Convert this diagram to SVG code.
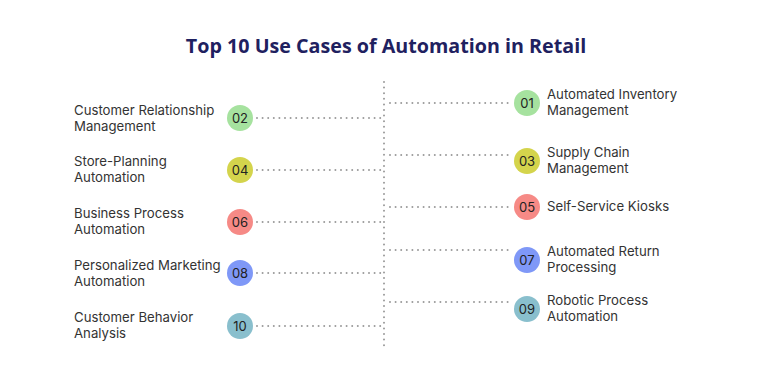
<svg xmlns="http://www.w3.org/2000/svg" width="768" height="381" viewBox="0 0 768 381">
<style>
.title{font-family:"Open Sans","Liberation Sans",sans-serif;font-weight:700;font-size:19.7px;fill:#1f2160}
.lbl{font-family:Inter,"Liberation Sans",sans-serif;font-size:13.2px;fill:#333333}
.num{font-family:Inter,"Liberation Sans",sans-serif;font-size:13px;fill:#222222;text-anchor:middle;dominant-baseline:central}
.dot{stroke:#9a9a9a;stroke-width:2;stroke-linecap:round;stroke-dasharray:0 5.6;fill:none}
.c1{fill:#a6e29f}.c2{fill:#d4d44c}.c3{fill:#f68a86}.c4{fill:#7f98f7}.c5{fill:#89bfcd}
</style>
<rect width="768" height="381" fill="#ffffff"/>
<text class="title" x="386" y="53" text-anchor="middle">Top 10 Use Cases of Automation in Retail</text>
<g id="connectors">
<path class="dot" d="M384 82V348"/>
<path class="dot" d="M257 118H381"/>
<path class="dot" d="M257 170H381"/>
<path class="dot" d="M257 222H381"/>
<path class="dot" d="M257 273H381"/>
<path class="dot" d="M257 326H381"/>
<path class="dot" d="M390 103H512"/>
<path class="dot" d="M390 155H512"/>
<path class="dot" d="M390 207H512"/>
<path class="dot" d="M390 250H512"/>
<path class="dot" d="M390 302H512"/>
</g>
<g id="n02"><circle class="c1" cx="240" cy="118" r="13"/><text class="num" x="240" y="118">02</text><text class="lbl" x="74" y="115">Customer Relationship</text><text class="lbl" x="74" y="131">Management</text></g>
<g id="n04"><circle class="c2" cx="240" cy="170" r="13"/><text class="num" x="240" y="170">04</text><text class="lbl" x="74" y="166">Store-Planning</text><text class="lbl" x="74" y="182">Automation</text></g>
<g id="n06"><circle class="c3" cx="240" cy="222" r="13"/><text class="num" x="240" y="222">06</text><text class="lbl" x="74" y="218">Business Process</text><text class="lbl" x="74" y="234">Automation</text></g>
<g id="n08"><circle class="c4" cx="240" cy="273" r="13"/><text class="num" x="240" y="273">08</text><text class="lbl" x="74" y="270">Personalized Marketing</text><text class="lbl" x="74" y="286">Automation</text></g>
<g id="n10"><circle class="c5" cx="240" cy="326" r="13"/><text class="num" x="240" y="326">10</text><text class="lbl" x="74" y="322">Customer Behavior</text><text class="lbl" x="74" y="338">Analysis</text></g>
<g id="n01"><circle class="c1" cx="527" cy="103" r="13"/><text class="num" x="527" y="103">01</text><text class="lbl" x="547" y="99">Automated Inventory</text><text class="lbl" x="547" y="115">Management</text></g>
<g id="n03"><circle class="c2" cx="527" cy="161" r="13"/><text class="num" x="527" y="161">03</text><text class="lbl" x="547" y="157">Supply Chain</text><text class="lbl" x="547" y="173">Management</text></g>
<g id="n05"><circle class="c3" cx="527" cy="207" r="13"/><text class="num" x="527" y="207">05</text><text class="lbl" x="547" y="211">Self-Service Kiosks</text></g>
<g id="n07"><circle class="c4" cx="527" cy="260" r="13"/><text class="num" x="527" y="260">07</text><text class="lbl" x="547" y="256">Automated Return</text><text class="lbl" x="547" y="272">Processing</text></g>
<g id="n09"><circle class="c5" cx="527" cy="309" r="13"/><text class="num" x="527" y="309">09</text><text class="lbl" x="547" y="305">Robotic Process</text><text class="lbl" x="547" y="321">Automation</text></g>
</svg>
